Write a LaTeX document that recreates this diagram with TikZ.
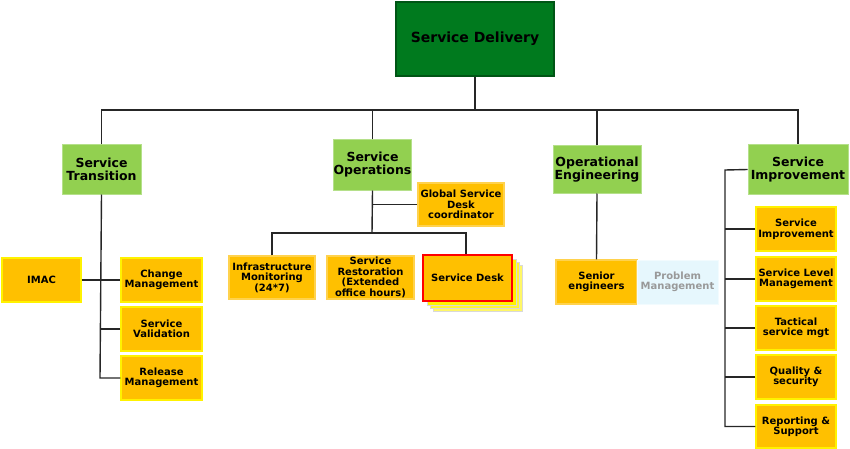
\documentclass[tikz,border=0pt]{standalone}
\usepackage{fontspec}
\setmainfont{DejaVu Sans}
\begin{document}
\begin{tikzpicture}[x=1pt,y=-1pt,
  box/.style={draw=#1,line width=1.2pt,fill=orange1,align=center,inner sep=0pt,font=\fontsize{10}{10.5}\selectfont\bfseries},
  box/.default=orange2,
  gbox/.style={draw=green2,line width=1pt,fill=green1,align=center,inner sep=0pt,font=\fontsize{12.5}{13}\selectfont\bfseries},
  ln/.style={draw=black!85,line width=1.4pt}]
\definecolor{orange1}{HTML}{FFC000}
\definecolor{orange2}{HTML}{FFD24D}
\definecolor{green1}{HTML}{92D050}
\definecolor{green2}{HTML}{B5E08A}
\definecolor{dgreen}{HTML}{007A1E}
\useasboundingbox (0,0) rectangle (850,449);
\newcommand\bx[6]{\node[#6,minimum width=#3-#1,minimum height=#4-#2] (#5) at ({(#1+#3)/2},{(#2+#4)/2})}
% top
\node[draw=dgreen!70!black,line width=1.5pt,fill=dgreen,minimum width=158,minimum height=74,font=\fontsize{14}{15}\selectfont\bfseries] (sd) at (475,39) {Service Delivery};
\bx{62}{145}{141}{194}{st}{gbox} {Service\\Transition};
\bx{335}{140}{410}{190}{so}{gbox} {Service\\Operations};
\bx{553}{146}{641}{193}{oe}{gbox} {Operational\\Engineering};
\bx{748}{145}{848}{194}{si}{gbox} {Service\\Improvement};
\coordinate (bus) at (475,110);
\draw[ln] (sd.south) -- (bus);
\draw[ln] (st.north) |- (bus) -| (si.north);
\draw[ln] (so.north) -- (so.north|-bus);
\draw[ln] (oe.north) -- (oe.north|-bus);
% transition
\bx{2}{258}{81}{302}{imac}{box=yellow} {IMAC};
\bx{121}{258}{202}{302}{cm}{box=yellow} {Change\\Management};
\bx{121}{307}{202}{351}{sv}{box=yellow} {Service\\Validation};
\bx{121}{356}{202}{400}{rm}{box=yellow} {Release\\Management};
\coordinate (stb) at (100,378);
\draw[ln] (st.south) -- (stb) -- (rm.west);
\draw[ln] (imac.east) -- (cm.west);
\draw[ln] (sv.west) -- (sv.west-|stb);
% operations
\bx{418}{183}{504}{226}{gsd}{box} {Global Service\\Desk\\coordinator};
\bx{229}{256}{315}{299}{im}{box} {Infrastructure\\Monitoring\\(24*7)};
\bx{327}{256}{414}{299}{sr}{box} {Service\\Restoration\\(Extended\\office hours)};
\node[fill=yellow!60,draw=black!15,minimum width=89,minimum height=46] at (477.5,288) {};
\node[fill=yellow!80,draw=black!15,minimum width=89,minimum height=46] at (474.5,285) {};
\node[fill=yellow,draw=black!15,minimum width=89,minimum height=46] at (471.5,282) {};
\bx{423}{255}{512}{301}{desk}{box=red,line width=2pt} {Service Desk};
\coordinate (sob) at (372,233);
\draw[ln] (so.south) -- (sob);
\draw[ln] (gsd.west) -- (gsd.west-|sob);
\draw[ln] (im.north) |- (sob) -| ([xshift=-1.5pt]desk.north);
% engineering
\bx{556}{260}{637}{304}{se}{box} {Senior\\engineers};
\node[fill=cyan!10,draw=cyan!5,minimum width=81,minimum height=44,align=center,inner sep=0pt,text=black!40,font=\fontsize{10}{10.5}\selectfont\bfseries] (pm) at (677.5,282) {Problem\\Management};
\draw[ln] (oe.south) -- (se.north);
% improvement
\bx{756}{207}{836}{251}{c1}{box=yellow} {Service\\Improvement};
\bx{756}{257}{836}{301}{c2}{box=yellow} {Service Level\\Management};
\bx{756}{306}{836}{350}{c3}{box=yellow} {Tactical\\service mgt};
\bx{756}{355}{836}{399}{c4}{box=yellow} {Quality \&\\security};
\bx{756}{405}{836}{448}{c5}{box=yellow} {Reporting \&\\Support};
\coordinate (sit) at (725,170);
\draw[ln] (si.west) -- (sit) |- (c5.west);
\foreach \c in {c1,c2,c3,c4} \draw[ln] (\c.west) -- (\c.west-|sit);
\end{tikzpicture}
\end{document}
